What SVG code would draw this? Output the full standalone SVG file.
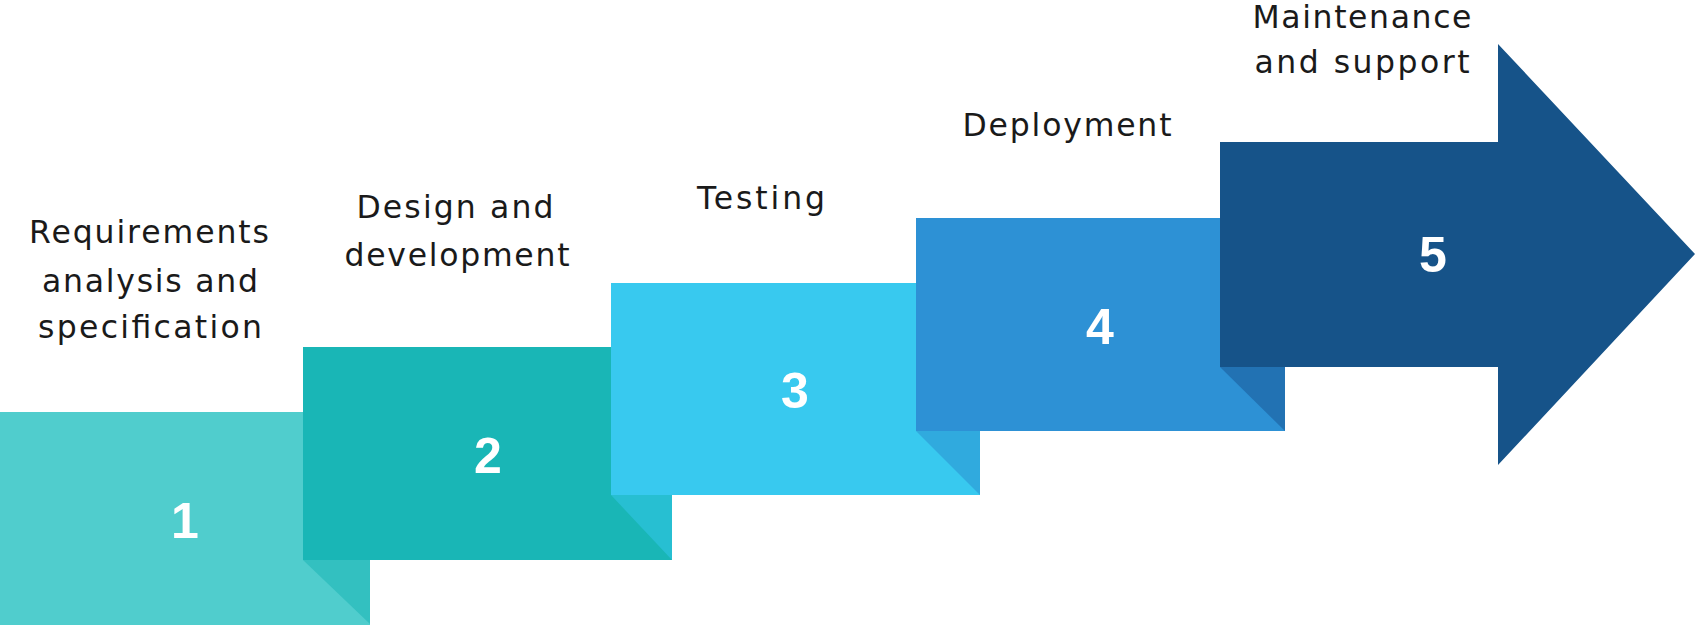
<svg xmlns="http://www.w3.org/2000/svg" width="1695" height="625" viewBox="0 0 1695 625">
<style>
.lbl{font-family:"DejaVu Sans","Open Sans","Liberation Sans",sans-serif;font-size:31.5px;fill:#1a1a1a;text-anchor:middle}
.num{font-family:"Liberation Sans",Arial,sans-serif;font-weight:bold;font-size:50px;fill:#ffffff;text-anchor:middle}
</style>
<rect width="1695" height="625" fill="#ffffff"/>
<g id="step1">
<rect x="0" y="412" width="370" height="213" fill="#50cdcd"/>
<polygon points="303,560 370,560 370,624" fill="#33c0c0"/>
<text class="num" x="185" y="538">1</text>
</g>
<g id="step2">
<rect x="303" y="347" width="369" height="213" fill="#19b6b6"/>
<polygon points="611,495 672,495 672,560" fill="#27bfd2"/>
<text class="num" x="488" y="473">2</text>
</g>
<g id="step3">
<rect x="611" y="283" width="369" height="212" fill="#38c9ef"/>
<polygon points="916,431 980,431 980,495" fill="#30aade"/>
<text class="num" x="795" y="408">3</text>
</g>
<g id="step4">
<rect x="916" y="218" width="369" height="213" fill="#2d91d5"/>
<polygon points="1220,367 1285,367 1285,431" fill="#2272b3"/>
<text class="num" x="1100" y="344">4</text>
</g>
<g id="step5">
<polygon points="1220,142 1498,142 1498,44 1695,254 1498,465 1498,367 1220,367" fill="#165389"/>
<text class="num" x="1433" y="272">5</text>
</g>
<g id="labels">
<text class="lbl" x="149" y="243" textLength="240" lengthAdjust="spacing">Requirements</text>
<text class="lbl" x="150" y="292" textLength="216" lengthAdjust="spacing">analysis and</text>
<text class="lbl" x="150" y="338" textLength="224" lengthAdjust="spacing">specification</text>
<text class="lbl" x="455" y="218" textLength="197" lengthAdjust="spacing">Design and</text>
<text class="lbl" x="457" y="266" textLength="225" lengthAdjust="spacing">development</text>
<text class="lbl" x="761" y="209" textLength="128" lengthAdjust="spacing">Testing</text>
<text class="lbl" x="1067" y="136" textLength="209" lengthAdjust="spacing">Deployment</text>
<text class="lbl" x="1362" y="28" textLength="219" lengthAdjust="spacing">Maintenance</text>
<text class="lbl" x="1362" y="73" textLength="215" lengthAdjust="spacing">and support</text>
</g>
<g id="connectors"></g>
</svg>
